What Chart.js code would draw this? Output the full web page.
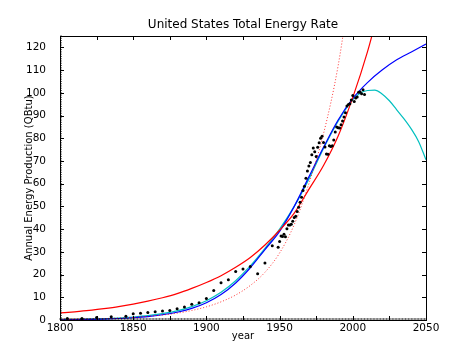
<!DOCTYPE html>
<html><head><meta charset="utf-8">
<script src="https://cdn.jsdelivr.net/npm/chart.js@4"></script>
<style>html,body{margin:0;padding:0;background:#fff}canvas{display:block}</style>
</head><body>
<canvas id="c" width="474" height="355"></canvas>
<script>
// ---- data ----
const dataYears = [1805,1815,1825,1835,1845,1850,1855,1860,1865,1870,1875,1880,1885,1890,1895,1900,1905,1910,1915,1920,1925,1930,1935,1940,1945,
  1949,1950,1951,1952,1953,1954,1955,1956,1957,1958,1959,1960,1961,1962,1963,1964,1965,1966,1967,1968,1969,1970,1971,1972,1973,1974,1975,1976,1977,1978,1979,
  1980,1981,1982,1983,1984,1985,1986,1987,1988,1989,1990,1991,1992,1993,1994,1995,1996,1997,1998,1999,2000,2001,2002,2003,2004,2005,2006,2007,2008];
const dataValues = [0.7,0.7,1.1,1.4,1.7,2.7,3.0,3.3,3.6,4.0,4.2,4.9,5.7,6.9,7.6,9.5,13.0,16.4,17.7,21.4,22.4,23.6,20.4,25.1,32.7,
  32.0,34.6,37.0,36.8,37.7,36.6,40.2,41.8,41.8,42.1,43.5,45.1,45.7,47.8,49.6,51.8,54.0,57.0,58.9,62.4,65.6,67.8,69.3,72.7,75.7,74.0,72.0,76.0,78.0,80.0,80.9,
  78.1,76.1,73.1,73.0,76.7,76.4,76.7,79.2,82.8,84.9,84.6,84.5,85.9,87.6,89.3,91.2,94.2,94.8,95.2,96.8,98.8,96.2,97.7,98.2,100.2,100.3,99.6,101.3,99.3];

const curveYears = [1800,1810,1820,1830,1840,1850,1860,1870,1880,1890,1900,1910,1920,1930,1940,1950,1960,1970,1980,1990,2000,2010,2020,2030,2040,2050];
const exponentialFit = [3.1,3.6,4.2,5.0,5.9,7.0,8.3,9.8,11.6,13.9,16.5,19.5,23.2,27.5,33.0,39.5,47.0,57.5,68.0,81.0,98.0,118.0,142.0,null,null,null];
const steepExponential = [0.25,0.35,0.45,0.6,0.85,1.15,1.6,2.2,3.0,4.2,5.8,8.0,11.0,15.2,21.0,29.5,42.0,60.0,82.0,112.0,155.0,null,null,null,null,null];
const logisticFit = [0.1,0.15,0.25,0.4,0.65,1.0,1.5,2.3,3.4,5.1,7.6,11.2,16.3,23.0,31.0,39.0,50.0,63.0,76.0,88.0,97.5,104.5,110.0,114.5,118.0,121.5];

const peakYears = [1800,1810,1820,1830,1840,1850,1860,1870,1880,1890,1900,1910,1920,1930,1940,1950,1960,1970,1980,1990,2000,2005,2010,2015,2020,2025,2030,2035,2040,2045,2050];
const peakFit = [0.15,0.22,0.35,0.55,0.85,1.3,1.9,2.8,4.0,5.9,8.5,12.2,17.3,23.8,31.5,40.0,50.0,62.0,75.5,87.5,97.0,99.8,101.0,101.2,99.5,96.5,92.5,88.5,84.0,78.5,70.5];

const xTickLabels = [1800,1850,1900,1950,2000,2050];
const xTickMarks = [1800,1825,1850,1875,1900,1925,1950,1975,2000,2025,2050];
const yTickLabels = [0,10,20,30,40,50,60,70,80,90,100,110,120];

function pts(xs, ys){ return xs.map((x,i)=>({x:x, y:ys[i]})).filter(p=>p.y!==null); }

const FONT = 'DejaVu Sans';

const titleOverPlot = {
  id:'titleOverPlot',
  afterLayout(chart){
    if (chart.titleBlock) {
      chart.titleBlock.left = chart.chartArea.left;
      chart.titleBlock.right = chart.chartArea.right;
    }
  }
};

const framePlugin = {
  id:'frame',
  afterDraw(chart){
    const {ctx, chartArea:a, scales} = chart;
    const x = scales.x, y = scales.y;
    ctx.save();
    ctx.strokeStyle = '#000';
    ctx.lineWidth = 1;
    ctx.beginPath();
    yTickLabels.forEach(v=>{
      const p = Math.round(y.getPixelForValue(v)) + 0.5;
      ctx.moveTo(a.left, p); ctx.lineTo(a.left+4, p);
      ctx.moveTo(a.right, p); ctx.lineTo(a.right-4, p);
    });
    xTickMarks.forEach(v=>{
      const p = Math.round(x.getPixelForValue(v)) + 0.5;
      ctx.moveTo(p, a.bottom); ctx.lineTo(p, a.bottom-4);
      ctx.moveTo(p, a.top); ctx.lineTo(p, a.top+4);
    });
    ctx.stroke();
    // fine minor ticks on left and bottom spines
    ctx.lineWidth = 0.6;
    ctx.beginPath();
    for (let v = 0; v <= 125; v += 1) {
      const p = y.getPixelForValue(v);
      ctx.moveTo(a.left, p); ctx.lineTo(a.left+2, p);
    }
    for (let v = 1800; v <= 2050; v += 1) {
      const p = x.getPixelForValue(v);
      ctx.moveTo(p, a.bottom); ctx.lineTo(p, a.bottom-2);
    }
    ctx.stroke();
    ctx.lineWidth = 1;
    ctx.strokeRect(a.left+0.5, a.top+0.5, a.right-a.left, a.bottom-a.top);
    ctx.restore();
  }
};

new Chart(document.getElementById('c'), {
  type:'scatter',
  data:{
    datasets:[
      {label:'data', data:pts(dataYears,dataValues), showLine:false, pointRadius:1.5, pointBackgroundColor:'#000', pointBorderWidth:0, borderColor:'#000'},
      {label:'exp', data:pts(curveYears,exponentialFit), showLine:true, pointRadius:0, borderColor:'#ff0000', borderWidth:1.2, cubicInterpolationMode:'monotone', fill:false},
      {label:'exp2', data:pts(curveYears,steepExponential), showLine:true, pointRadius:0, borderColor:'rgba(255,0,0,0.8)', borderWidth:1, borderDash:[1,2], cubicInterpolationMode:'monotone', fill:false},
      {label:'logistic', data:pts(curveYears,logisticFit), showLine:true, pointRadius:0, borderColor:'#0000ff', borderWidth:1.2, cubicInterpolationMode:'monotone', fill:false},
      {label:'peak', data:pts(peakYears,peakFit), showLine:true, pointRadius:0, borderColor:'#00bfbf', borderWidth:1.2, cubicInterpolationMode:'monotone', fill:false}
    ]
  },
  options:{
    responsive:false, animation:false, devicePixelRatio:1,
    layout:{padding:{left:0,right:48,top:0,bottom:0}},
    plugins:{
      legend:{display:false}, tooltip:{enabled:false},
      title:{display:true, text:'United States Total Energy Rate', color:'#000',
        font:{family:FONT, size:12, weight:'normal'}, padding:{top:18,bottom:3.6}}
    },
    scales:{
      x:{type:'linear', min:1800, max:2050,
        afterBuildTicks:s=>{ s.ticks = xTickLabels.map(v=>({value:v})); },
        afterFit:s=>{ s.height = 35; },
        grid:{display:false}, border:{display:false},
        ticks:{color:'#000', font:{family:FONT,size:10.5}, padding:-6, maxRotation:0, autoSkip:false,
          callback:v=>String(v)},
        title:{display:true, text:'year', color:'#000', font:{family:FONT,size:10}, padding:{top:0,bottom:13}}
      },
      y:{type:'linear', min:0, max:125,
        afterBuildTicks:s=>{ s.ticks = yTickLabels.map(v=>({value:v})); },
        afterFit:s=>{ s.width = 60; },
        grid:{display:false}, border:{display:false},
        ticks:{color:'#000', font:{family:FONT,size:10.5}, padding:6, autoSkip:false,
          callback:v=>String(v)},
        title:{display:true, text:'Annual Energy Production (QBtu)', color:'#000', font:{family:FONT,size:10}, padding:{top:23,bottom:0}}
      }
    }
  },
  plugins:[titleOverPlot, framePlugin]
});
</script>
</body></html>
